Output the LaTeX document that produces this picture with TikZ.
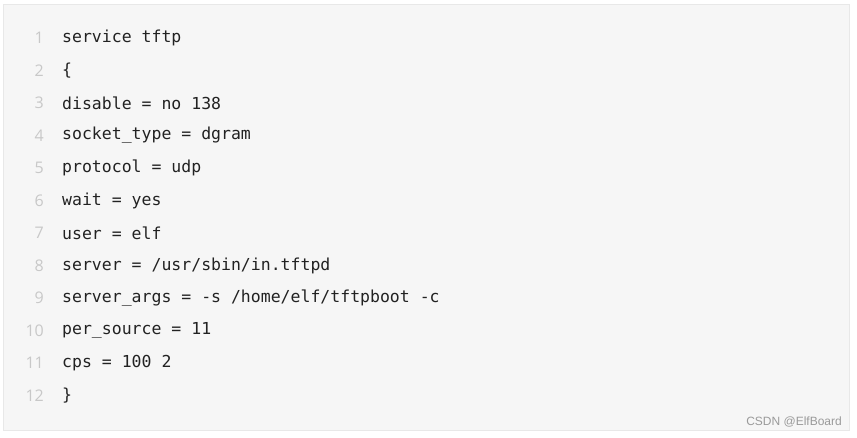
\documentclass[tikz,border=0pt]{standalone}
\usepackage{fontspec}
\setmainfont{Liberation Sans}
\newfontfamily\codefont{DejaVu Sans Mono}
\newfontfamily\numfont{Open Sans}
\definecolor{bgc}{HTML}{F6F6F6}
\definecolor{bordc}{HTML}{E8E8E8}
\definecolor{numc}{HTML}{C8C8C8}
\definecolor{codec}{HTML}{222222}
\definecolor{wmc}{HTML}{9A9A9A}
\tikzset{
  codeline/.style={anchor=west,inner sep=0pt,text=codec,font=\codefont\fontsize{16.5}{18}\selectfont},
  numline/.style={anchor=east,inner sep=0pt,text=numc,font=\numfont\fontsize{16}{18}\selectfont},
}
\newcommand{\codeln}[2]{%
  \node[numline] (n#1) at (44,{38+32.5*(#1-1)}) {#1};
  \node[codeline] (c#1) at (62,{38+32.5*(#1-1)}) {#2};}
\begin{document}
\begin{tikzpicture}[x=1pt,y=-1pt]
\useasboundingbox (0,0) rectangle (857,437);
\fill[white] (0,0) rectangle (857,437);
\draw[bordc,fill=bgc] (3.5,4.5) rectangle (849.5,430.5);
\codeln{1}{service tftp}
\codeln{2}{\{}
\codeln{3}{disable = no 138}
\codeln{4}{socket\_type = dgram}
\codeln{5}{protocol = udp}
\codeln{6}{wait = yes}
\codeln{7}{user = elf}
\codeln{8}{server = /usr/sbin/in.tftpd}
\codeln{9}{server\_args = -s /home/elf/tftpboot -c}
\codeln{10}{per\_source = 11}
\codeln{11}{cps = 100 2}
\codeln{12}{\}}
\node[anchor=east,inner sep=0pt,text=wmc,font=\fontsize{12}{14}\selectfont] (wm) at (842,422) {CSDN @ElfBoard};
\end{tikzpicture}
\end{document}
